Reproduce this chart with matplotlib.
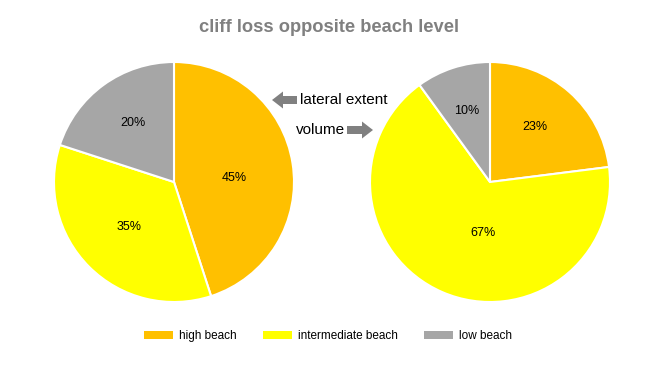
import numpy as np
import matplotlib.pyplot as plt
from matplotlib.patches import FancyArrow, Patch

plt.rcParams["font.family"] = ["Liberation Sans", "DejaVu Sans"]

# data
categories = ["high beach", "intermediate beach", "low beach"]
lateral_extent = [45, 35, 20]
volume = [23, 67, 10]
colors = ["#FFC000", "#FFFF00", "#A6A6A6"]

# label placement: radial distance (fraction of radius) and angle shift (deg) from wedge middle
lateral_label_r = [0.50, 0.53, 0.60]
lateral_label_shift = [-4.7, 0, -1.4]
volume_label_r = [0.59, 0.43, 0.62]
volume_label_shift = [2.2, 15.7, 0]

W, H = 665, 365
fig = plt.figure(figsize=(W / 100, H / 100), dpi=100)


def pie_axes(cx, cy, r):
    # pixel center / radius -> figure fraction
    return fig.add_axes([(cx - r) / W, (H - cy - r) / H, 2 * r / W, 2 * r / H])


pies = [
    (lateral_extent, lateral_label_r, lateral_label_shift, (174, 182)),
    (volume, volume_label_r, volume_label_shift, (490, 182)),
]
for vals, label_r, label_shift, (cx, cy) in pies:
    ax = pie_axes(cx, cy, 120)
    wedges, _ = ax.pie(vals, colors=colors, startangle=90, counterclock=False,
                       wedgeprops=dict(edgecolor="white", linewidth=1.5))
    for w, v, d, s in zip(wedges, vals, label_r, label_shift):
        ang = np.deg2rad((w.theta1 + w.theta2) / 2 + s)
        ax.text(d * np.cos(ang), d * np.sin(ang), f"{v}%", ha="center", va="center",
                fontsize=9)
    ax.set_xlim(-1, 1)
    ax.set_ylim(-1, 1)
    ax.set_aspect("auto")

# overlay in pixel coords for arrows and text
ov = fig.add_axes([0, 0, 1, 1], zorder=5)
ov.set_xlim(0, W)
ov.set_ylim(H, 0)
ov.axis("off")

ov.add_patch(FancyArrow(297, 100, -25, 0, width=8, head_width=17, head_length=11,
                        length_includes_head=True, color="#808080", lw=0))
ov.text(300, 100, "lateral extent", fontsize=11, va="center", ha="left")
ov.text(345, 130, "volume", fontsize=11, va="center", ha="right")
ov.add_patch(FancyArrow(347, 130, 26, 0, width=8, head_width=17, head_length=11,
                        length_includes_head=True, color="#808080", lw=0))

ov.text(329, 28, "cliff loss opposite beach level", fontsize=13.2, fontweight="bold",
        color="#808080", ha="center", va="center")

handles = [Patch(facecolor=c, edgecolor="none") for c in colors]
fig.legend(handles, categories, loc="center", bbox_to_anchor=(328 / W, (H - 336) / H),
           ncol=3, frameon=False, fontsize=8.5, handlelength=2.5, handleheight=0.7,
           columnspacing=2.2, handletextpad=0.5)

fig.savefig("out.png", dpi=100)
